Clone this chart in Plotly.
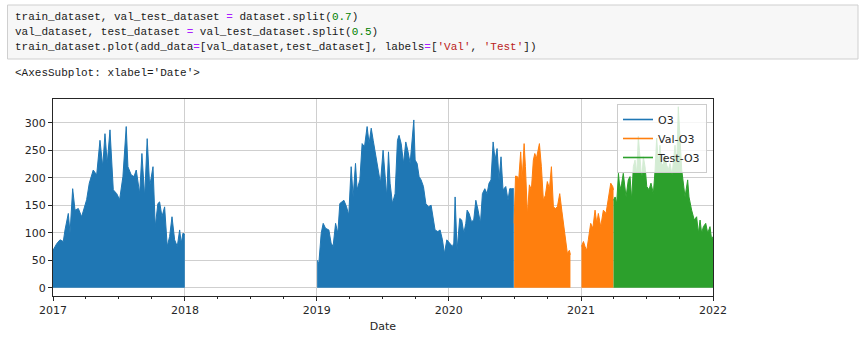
import pandas as pd
import plotly.graph_objects as go

# ---------------- data (decimal-year positions and envelope peaks) ----------
train_a_t = [2017.000, 2017.028, 2017.053, 2017.078, 2017.091, 2017.116, 2017.129, 2017.149, 2017.167,
             2017.192, 2017.217, 2017.255, 2017.275, 2017.305, 2017.331, 2017.356, 2017.377, 2017.394,
             2017.411, 2017.432, 2017.457, 2017.483, 2017.505, 2017.517, 2017.530, 2017.555, 2017.568,
             2017.593, 2017.614, 2017.631, 2017.657, 2017.674, 2017.695, 2017.714, 2017.733, 2017.758,
             2017.775, 2017.795, 2017.808, 2017.826, 2017.846, 2017.866, 2017.884, 2017.902, 2017.922,
             2017.942, 2017.960, 2017.972, 2017.985, 2017.999]
train_a_v = [68, 80, 87, 84, 105, 135, 99, 180, 141,
             144, 129, 160, 190, 214, 205, 268, 220, 280,
             226, 287, 178, 171, 160, 178, 202, 293, 220,
             205, 202, 214, 171, 244, 165, 271, 184, 220,
             111, 153, 156, 129, 147, 75, 93, 129, 87,
             75, 105, 81, 99, 97]

train_b_t = [2019.002, 2019.015, 2019.033, 2019.048, 2019.066, 2019.091, 2019.108, 2019.123, 2019.142,
             2019.159, 2019.174, 2019.192, 2019.205, 2019.225, 2019.242, 2019.260, 2019.275, 2019.293,
             2019.305, 2019.326, 2019.343, 2019.361, 2019.381, 2019.396, 2019.412, 2019.427, 2019.445,
             2019.462, 2019.482, 2019.502, 2019.517, 2019.530, 2019.543, 2019.555, 2019.573, 2019.593,
             2019.611, 2019.623, 2019.639, 2019.657, 2019.674, 2019.689, 2019.707, 2019.720, 2019.735,
             2019.745, 2019.760, 2019.775, 2019.790, 2019.808, 2019.826, 2019.846, 2019.866, 2019.884,
             2019.896, 2019.917, 2019.934, 2019.952, 2019.967, 2019.985, 2020.010, 2020.028, 2020.038,
             2020.048, 2020.063, 2020.083, 2020.098, 2020.114, 2020.129, 2020.139, 2020.154, 2020.172,
             2020.189, 2020.205, 2020.222, 2020.240, 2020.255, 2020.273, 2020.290, 2020.305, 2020.320,
             2020.336, 2020.351, 2020.366, 2020.381, 2020.396, 2020.411, 2020.432, 2020.449, 2020.462,
             2020.477, 2020.493]
train_b_v = [50, 44, 99, 117, 108, 105, 81, 75, 117,
             99, 153, 156, 159, 147, 132, 220, 165, 226,
             178, 196, 262, 256, 293, 262, 290, 268, 244,
             220, 190, 250, 202, 165, 247, 190, 153, 171,
             268, 277, 262, 226, 265, 250, 226, 262, 305,
             232, 226, 202, 196, 184, 153, 147, 150, 123,
             105, 102, 105, 87, 62, 87, 81, 75, 81,
             165, 68, 126, 123, 99, 117, 141, 135, 120,
             123, 159, 141, 117, 171, 180, 171, 190, 196,
             265, 232, 253, 196, 238, 178, 184, 159, 180,
             180, 180]

val_a_t = [2020.495, 2020.506, 2020.520, 2020.530, 2020.545, 2020.556, 2020.571, 2020.581, 2020.596,
           2020.611, 2020.626, 2020.641, 2020.652, 2020.664, 2020.677, 2020.687, 2020.702, 2020.717,
           2020.732, 2020.747, 2020.763, 2020.778, 2020.793, 2020.808, 2020.823, 2020.841, 2020.858,
           2020.879, 2020.899, 2020.914, 2020.922]
val_a_v = [117, 203, 202, 196, 247, 196, 262, 220, 132,
           187, 178, 232, 244, 235, 250, 262, 220, 159,
           168, 193, 180, 220, 147, 144, 147, 171, 138,
           93, 62, 68, 60]

val_b_t = [2021.003, 2021.018, 2021.030, 2021.043, 2021.055, 2021.073, 2021.089, 2021.106, 2021.119,
           2021.131, 2021.149, 2021.169, 2021.189, 2021.207, 2021.225, 2021.240, 2021.246]
val_b_v = [75, 84, 75, 68, 87, 117, 108, 141, 117,
           135, 111, 141, 135, 165, 190, 184, 178]

test_t = [2021.246, 2021.258, 2021.270, 2021.283, 2021.295, 2021.308, 2021.320, 2021.341, 2021.358,
          2021.371, 2021.384, 2021.396, 2021.409, 2021.422, 2021.434, 2021.447, 2021.460, 2021.472,
          2021.485, 2021.498, 2021.515, 2021.530, 2021.548, 2021.561, 2021.573, 2021.586, 2021.598,
          2021.611, 2021.624, 2021.636, 2021.649, 2021.662, 2021.674, 2021.690, 2021.712, 2021.725,
          2021.737, 2021.763, 2021.775, 2021.788, 2021.808, 2021.818, 2021.838, 2021.858, 2021.876,
          2021.889, 2021.902, 2021.914, 2021.927, 2021.945, 2021.960, 2021.977, 2021.990, 2022.000]
test_v = [159, 165, 153, 208, 178, 190, 208, 165, 196,
          202, 159, 220, 232, 208, 275, 226, 196, 238,
          220, 184, 178, 190, 171, 214, 272, 226, 259,
          223, 226, 240, 223, 215, 226, 205, 259, 220,
          329, 214, 190, 165, 196, 165, 141, 123, 129,
          99, 123, 99, 111, 117, 99, 111, 87, 93]

series_names = ["O3", "Val-O3", "Test-O3"]
series_colors = ["#1f77b4", "#ff7f0e", "#2ca02c"]
year_ticks = [2017, 2018, 2019, 2020, 2021, 2022]


def to_date(y):
    yr = int(y)
    return pd.Timestamp(year=yr, month=1, day=1) + pd.Timedelta(days=(y - yr) * 365)


segments = [
    (train_a_t, train_a_v, 0),
    (train_b_t, train_b_v, 0),
    (val_a_t, val_a_v, 1),
    (val_b_t, val_b_v, 1),
    (test_t, test_v, 2),
]

fig = go.Figure()
for ts, vs, idx in segments:
    fig.add_trace(go.Scatter(
        x=[to_date(t) for t in ts], y=vs, mode="lines",
        name=series_names[idx], legendgroup=series_names[idx], showlegend=False,
        line=dict(color=series_colors[idx], width=1),
        fill="tozeroy", fillcolor=series_colors[idx],
    ))

# legend entries drawn as line samples (like matplotlib)
for name, color in zip(series_names, series_colors):
    fig.add_trace(go.Scatter(
        x=[None], y=[None], mode="lines", name=name, legendgroup=name,
        line=dict(color=color, width=1.6), showlegend=True,
    ))

# ---------------- layout ----------------
L, R, T, B = 53, 713, 99, 296
W, H = 865, 351


def px(xp):
    return (xp - L) / (R - L)


def py(yp):
    return (B - yp) / (B - T)


tick_font = dict(family="DejaVu Sans", size=11, color="#262626")

fig.update_layout(
    width=W, height=H,
    margin=dict(l=L, r=W - R, t=T, b=H - B, pad=0),
    paper_bgcolor="white", plot_bgcolor="white",
    showlegend=True,
    legend=dict(
        x=px(707), y=py(104), xanchor="right", yanchor="top",
        bgcolor="rgba(255,255,255,0.8)", bordercolor="#cccccc", borderwidth=1,
        font=dict(family="DejaVu Sans", size=11, color="#262626"),
        itemwidth=30, tracegroupgap=0,
    ),
    xaxis=dict(
        type="date",
        range=[to_date(year_ticks[0]), to_date(year_ticks[-1])],
        tickvals=[to_date(y) for y in year_ticks],
        ticktext=[str(y) for y in year_ticks],
        ticks="outside", ticklen=4, tickwidth=1, tickcolor="#262626",
        showgrid=True, gridcolor="#cfcfcf", gridwidth=1,
        showline=True, linecolor="#262626", linewidth=1, mirror=True,
        zeroline=False, tickfont=tick_font,
        minor=dict(dtick="M3", tick0="2017-01-01", ticks="outside", ticklen=2,
                   tickcolor="#262626", showgrid=False),
        title=dict(text="Date", font=dict(family="DejaVu Sans", size=11, color="#262626"), standoff=6),
    ),
    yaxis=dict(
        range=[-15.1, 343.1],
        tickvals=[0, 50, 100, 150, 200, 250, 300],
        ticks="outside", ticklen=4, tickwidth=1, tickcolor="#262626",
        showgrid=True, gridcolor="#cfcfcf", gridwidth=1,
        showline=True, linecolor="#262626", linewidth=1, mirror=True,
        zeroline=False, tickfont=tick_font,
    ),
)

# code cell box
fig.add_shape(type="rect", xref="paper", yref="paper",
              x0=px(7.5), x1=px(858), y0=py(59), y1=py(5),
              fillcolor="#f7f7f7", line=dict(color="#cfcfcf", width=1), layer="below")

EQ = '<span style="color:#aa22ff">=</span>'
NUM = lambda s: f'<span style="color:#008000">{s}</span>'
STR = lambda s: f'<span style="color:#ba2121">{s}</span>'

code_lines = [
    f"train_dataset, val_test_dataset {EQ} dataset.split({NUM('0.7')})",
    f"val_dataset, test_dataset {EQ} val_test_dataset.split({NUM('0.5')})",
    f"train_dataset.plot(add_data{EQ}[val_dataset,test_dataset], labels{EQ}[{STR(chr(39)+'Val'+chr(39))}, {STR(chr(39)+'Test'+chr(39))}])",
]
code_y = [17.3, 32.3, 47.3]
mono = dict(family="Liberation Mono", size=11, color="#1a1a1a")
for line, yy in zip(code_lines, code_y):
    fig.add_annotation(x=px(12.5), y=py(yy), xref="paper", yref="paper", text=line,
                       showarrow=False, xanchor="left", yanchor="middle", font=mono)

fig.add_annotation(x=px(12.5), y=py(73.3), xref="paper", yref="paper",
                   text="&lt;AxesSubplot: xlabel='Date'&gt;",
                   showarrow=False, xanchor="left", yanchor="middle", font=mono)

fig.write_html("out.html")
